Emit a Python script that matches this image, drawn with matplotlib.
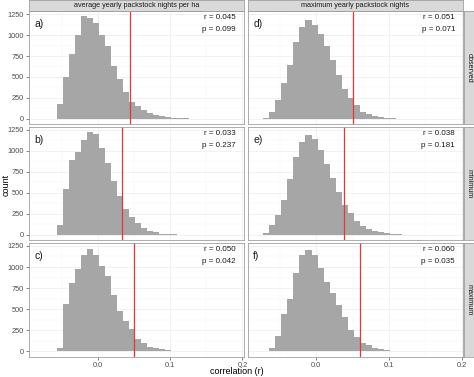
import numpy as np
import matplotlib.pyplot as plt
from matplotlib.ticker import MultipleLocator

plt.rcParams['font.family'] = ['Liberation Sans', 'DejaVu Sans']

# histogram bins (shared by all panels)
bin_width = 0.00833
bin_start = -0.0733

# counts per bin, starting at bin_start
counts_a = [0, 0, 175, 495, 780, 1005, 1225, 1205, 1140, 1005, 870, 635, 470, 315,
            195, 150, 110, 70, 50, 30, 20, 12, 8, 5, 3, 2, 1]
counts_b = [0, 0, 120, 548, 893, 990, 1125, 1225, 1200, 1030, 853, 643, 464, 306,
            218, 139, 80, 48, 28, 15, 8, 4, 2, 1]
counts_c = [0, 0, 40, 559, 811, 979, 1138, 1218, 1142, 1010, 891, 663, 479, 363,
            264, 152, 104, 55, 45, 28, 14, 8, 4, 2, 1]
counts_d = [12, 80, 228, 431, 639, 919, 1099, 1186, 1119, 1019, 867, 699, 519, 352,
            252, 168, 80, 52, 28, 16, 8, 4, 2, 1]
counts_e = [20, 116, 236, 419, 667, 927, 1107, 1195, 1147, 1007, 847, 675, 515, 360,
            260, 168, 108, 68, 44, 28, 16, 8, 4, 2, 1]
counts_f = [0, 36, 188, 447, 619, 927, 1146, 1206, 1138, 987, 827, 687, 555, 407,
            260, 168, 100, 75, 45, 25, 15, 8, 4, 2, 1]

panel_labels = ['a)', 'd)', 'b)', 'e)', 'c)', 'f)']
r_vals = ['0.045', '0.051', '0.033', '0.038', '0.050', '0.060']
p_vals = ['0.099', '0.071', '0.237', '0.181', '0.042', '0.035']
col_titles = ['average yearly packstock nights per ha', 'maximum yearly packstock nights']
row_titles = ['observed', 'minimum', 'maximum']
y_ticks = [0, 250, 500, 750, 1000, 1250]
x_ticks = [0.0, 0.1, 0.2]
x_tick_labels = ['0.0', '0.1', '0.2']

counts = [counts_a, counts_d, counts_b, counts_e, counts_c, counts_f]

W, H = 474, 377
fig = plt.figure(figsize=(W / 100, H / 100), dpi=100)

col_x = [(29.3, 243.5), (247.7, 462.7)]
row_y = [(11, 124), (126.7, 240), (242.7, 356.7)]

strip_bg = '#D9D9D9'
border = '#A0A0A0'
tick_col = '#4D4D4D'

for i in range(6):
    row, col = divmod(i, 2)
    x0, x1 = col_x[col]
    y0, y1 = row_y[row]
    ax = fig.add_axes([x0 / W, 1 - y1 / H, (x1 - x0) / W, (y1 - y0) / H])
    ax.set_axisbelow(True)

    c = counts[i]
    edges = bin_start + bin_width * np.arange(len(c))
    ax.bar(edges, c, width=bin_width, align='edge', color='#A6A6A6', linewidth=0)
    ax.axvline(float(r_vals[i]), color='#E8372F', linewidth=0.9)

    ax.set_xlim(-0.0945, 0.2015)
    ax.set_ylim(-62, 1288)
    ax.xaxis.set_minor_locator(MultipleLocator(0.05))
    ax.yaxis.set_minor_locator(MultipleLocator(125))
    ax.grid(which='major', color='#EBEBEB', linewidth=0.5)
    ax.grid(which='minor', color='#F5F5F5', linewidth=0.35)
    ax.tick_params(which='minor', length=0)
    ax.tick_params(which='major', length=2.2, width=0.5, color=tick_col,
                   labelsize=5.3, labelcolor=tick_col, pad=1.5)
    for s in ax.spines.values():
        s.set_color(border)
        s.set_linewidth(0.6)

    ax.set_yticks(y_ticks)
    if col == 0:
        ax.set_yticklabels([str(t) for t in y_ticks])
    else:
        ax.tick_params(axis='y', left=False, labelleft=False)
    ax.set_xticks(x_ticks)
    if row == 2:
        ax.set_xticklabels(x_tick_labels)
    else:
        ax.tick_params(axis='x', bottom=False, labelbottom=False)

    tr = ax.get_xaxis_transform()
    ax.text(-0.087, 0.885, panel_labels[i], transform=tr,
            fontsize=7.5, ha='left', va='center', color='#1A1A1A')
    ax.text(0.191, 0.944, 'r = ' + r_vals[i], transform=tr,
            fontsize=5.8, ha='right', va='center', color='#1A1A1A')
    ax.text(0.191, 0.838, 'p = ' + p_vals[i], transform=tr,
            fontsize=5.8, ha='right', va='center', color='#1A1A1A')

# top strips
for col in range(2):
    x0, x1 = col_x[col]
    sax = fig.add_axes([x0 / W, 1 - 10.7 / H, (x1 - x0) / W, 10.7 / H])
    sax.set_facecolor(strip_bg)
    sax.set_xticks([])
    sax.set_yticks([])
    for s in sax.spines.values():
        s.set_color(border)
        s.set_linewidth(0.6)
    sax.text(0.5, 0.45, col_titles[col], ha='center', va='center', fontsize=5.2,
             color='#1A1A1A', transform=sax.transAxes)

# right strips
for row in range(3):
    y0, y1 = row_y[row]
    sax = fig.add_axes([463.5 / W, 1 - y1 / H, 10.5 / W, (y1 - y0) / H])
    sax.set_facecolor(strip_bg)
    sax.set_xticks([])
    sax.set_yticks([])
    for s in sax.spines.values():
        s.set_color(border)
        s.set_linewidth(0.6)
    sax.text(0.5, 0.5, row_titles[row], ha='center', va='center', fontsize=5.2,
             rotation=270, color='#1A1A1A', transform=sax.transAxes)

fig.text(237 / W, 1 - 372 / H, 'correlation (r)', ha='center', va='center', fontsize=6.5)
fig.text(6 / W, 1 - 185 / H, 'count', ha='center', va='center', fontsize=6.5, rotation=90)

fig.savefig('out.png', dpi=100)
